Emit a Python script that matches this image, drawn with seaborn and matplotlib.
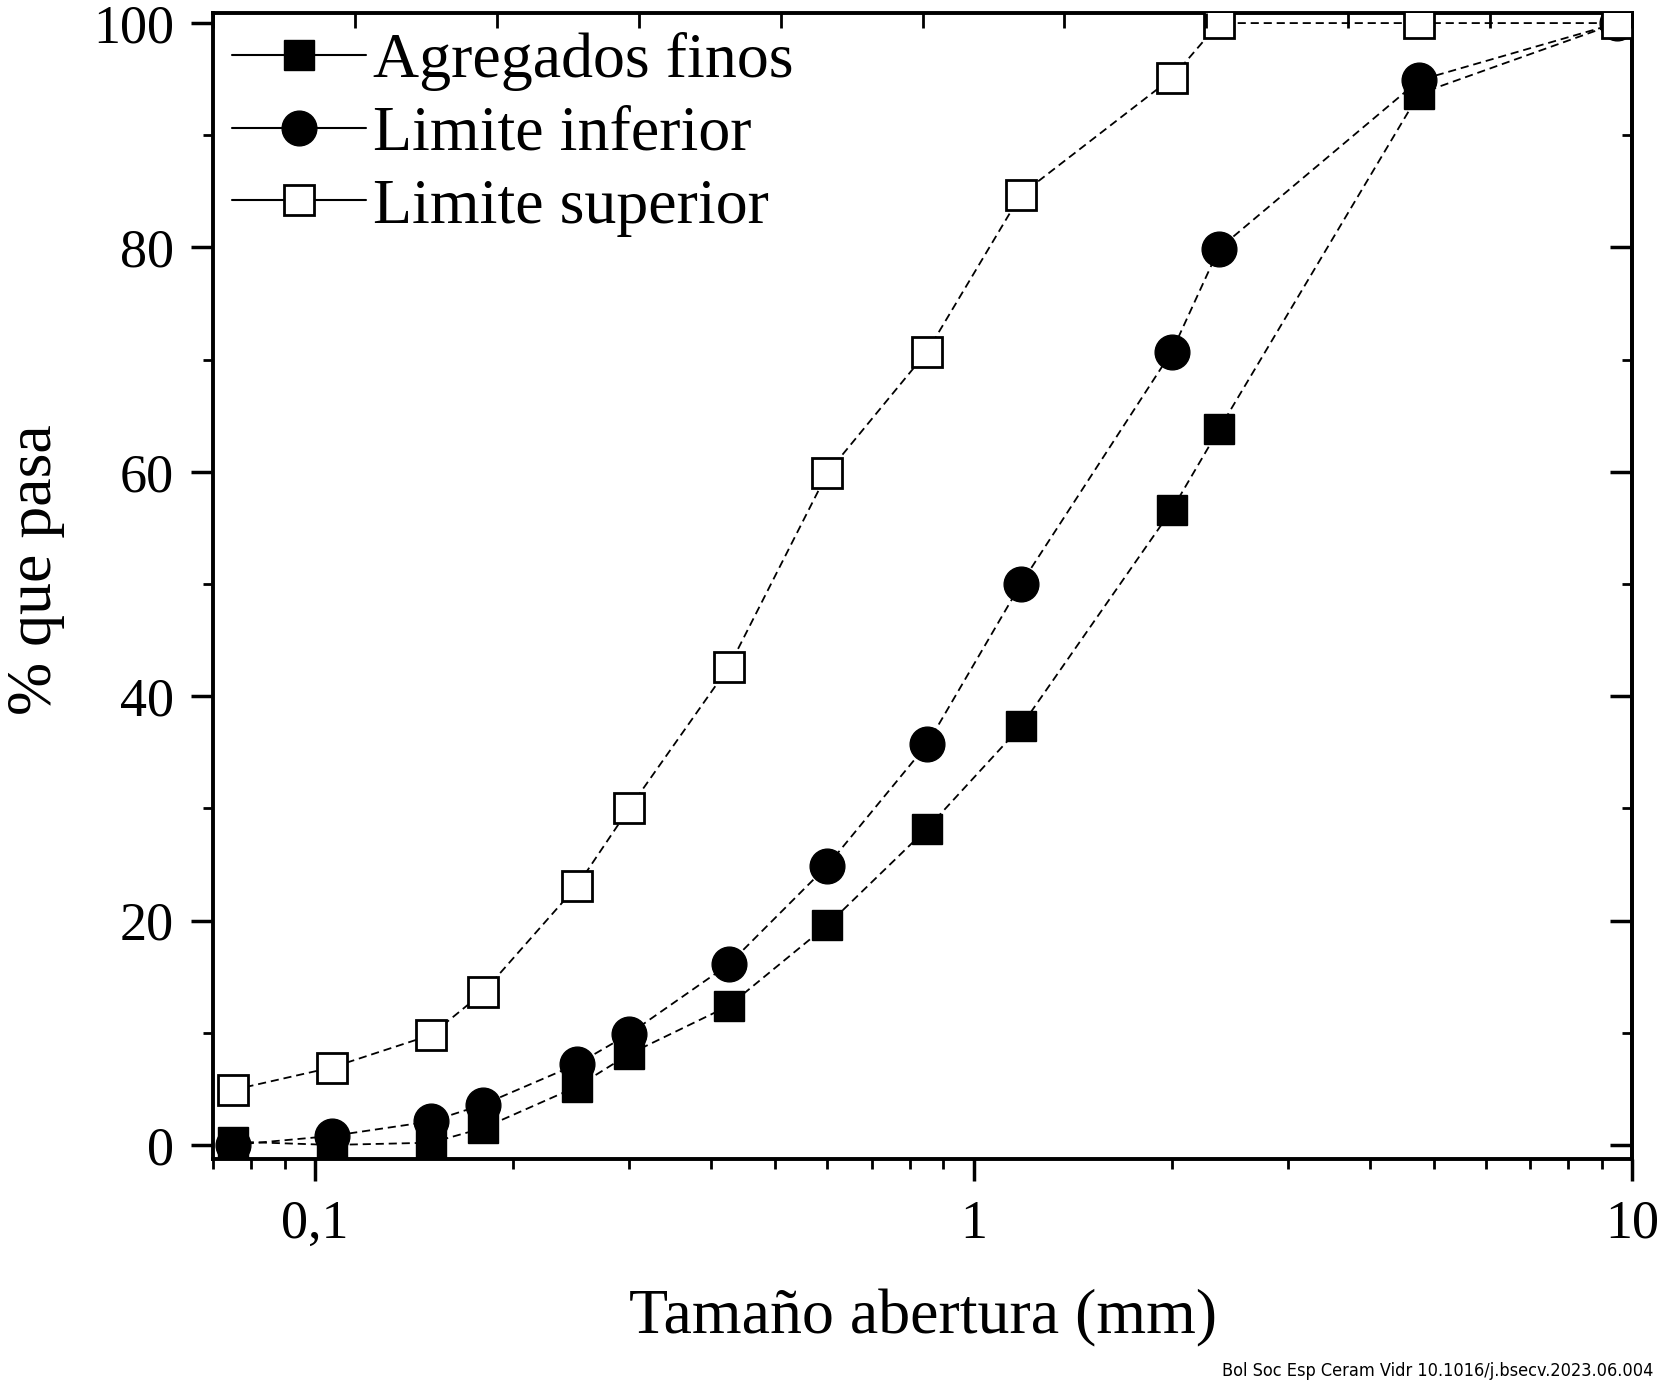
import numpy as np
import matplotlib
matplotlib.use("Agg")
import matplotlib.pyplot as plt
from matplotlib.lines import Line2D
from matplotlib.ticker import FixedLocator, NullFormatter, LogLocator
import seaborn as sns

# sieve openings (mm) and % passing
abertura = [0.075, 0.106, 0.15, 0.18, 0.25, 0.3, 0.425, 0.6, 0.85, 1.18, 2.0, 2.36, 4.75, 9.5]
agregados_finos = [0.3, 0.0, 0.2, 1.5, 5.2, 8.1, 12.4, 19.6, 28.2, 37.3, 56.6, 63.8, 93.7, 100]
limite_inferior = [0.0, 0.8, 2.1, 3.6, 7.2, 9.9, 16.1, 24.9, 35.7, 50.0, 70.7, 79.9, 94.9, 100]
limite_superior = [4.9, 6.9, 9.8, 13.6, 23.1, 30.0, 42.6, 59.9, 70.7, 84.7, 95.1, 100, 100, 100]

xticks = [0.1, 1, 10]
xticklabels = ["0,1", "1", "10"]
yticks = [0, 20, 40, 60, 80, 100]

sns.set_style("ticks")
plt.rcParams["font.family"] = ["Liberation Serif", "DejaVu Serif"]
plt.rcParams["text.color"] = "black"
plt.rcParams["axes.labelcolor"] = "black"
plt.rcParams["xtick.color"] = "black"
plt.rcParams["ytick.color"] = "black"

fig = plt.figure(figsize=(16.67, 13.95), dpi=100)
ax = fig.add_axes([0.1278, 0.1692, 0.8512, 0.8215])

dash = (0, (4.5, 2.7))
sns.lineplot(x=abertura, y=limite_inferior, ax=ax, color="black", lw=1.3, linestyle=dash,
             marker="o", markersize=25, markerfacecolor="black", markeredgecolor="black",
             markeredgewidth=1.0, legend=False, zorder=3)
sns.lineplot(x=abertura, y=agregados_finos, ax=ax, color="black", lw=1.3, linestyle=dash,
             marker="s", markersize=22, markerfacecolor="black", markeredgecolor="black",
             markeredgewidth=1.0, legend=False, zorder=4)
sns.lineplot(x=abertura, y=limite_superior, ax=ax, color="black", lw=1.3, linestyle=dash,
             marker="s", markersize=22, markerfacecolor="white", markeredgecolor="black",
             markeredgewidth=2.0, legend=False, zorder=5)

ax.set_xscale("log")
ax.set_xlim(0.07, 10)
ax.set_ylim(-1.25, 100.9)
ax.set_xticks(xticks)
ax.set_xticklabels(xticklabels)
ax.xaxis.set_minor_locator(LogLocator(base=10, subs=np.arange(2, 10)))
ax.xaxis.set_minor_formatter(NullFormatter())
ax.set_yticks(yticks)
ax.yaxis.set_minor_locator(FixedLocator([10, 30, 50, 70, 90]))

for s in ax.spines.values():
    s.set_linewidth(2.8)
    s.set_color("black")

ax.tick_params(axis="both", which="major", direction="out", length=16, width=2.5,
               labelsize=39, colors="black")
ax.tick_params(axis="both", which="minor", direction="out", length=7, width=2.0)
ax.tick_params(axis="x", which="major", pad=13)
ax.tick_params(axis="y", which="major", pad=12)

# top axis: evenly spaced inward ticks
top = ax.twiny()
top.set_xlim(0, 10)
top.set_xticks(range(11))
top.tick_params(axis="x", direction="in", length=11, width=2.0, labeltop=False, top=True)
for s in top.spines.values():
    s.set_visible(False)

# right axis: inward ticks
right = ax.secondary_yaxis("right")
right.set_yticks(yticks)
right.yaxis.set_minor_locator(FixedLocator([10, 30, 50, 70, 90]))
right.tick_params(axis="y", which="major", direction="in", length=16, width=2.5, labelright=False)
right.tick_params(axis="y", which="minor", direction="in", length=7, width=2.0)
right.spines["right"].set_linewidth(2.8)

ax.set_xlabel("Tamaño abertura (mm)", fontsize=46, color="black")
ax.set_ylabel("% que pasa", fontsize=46, color="black")
ax.xaxis.set_label_coords(0.5, -0.114)
ax.yaxis.set_label_coords(-0.104, 0.514)

handles = [
    Line2D([], [], color="black", lw=1.5, marker="s", markersize=22,
           markerfacecolor="black", markeredgecolor="black"),
    Line2D([], [], color="black", lw=1.5, marker="o", markersize=25,
           markerfacecolor="black", markeredgecolor="black"),
    Line2D([], [], color="black", lw=1.5, marker="s", markersize=22,
           markerfacecolor="white", markeredgecolor="black", markeredgewidth=2.0),
]
labels = ["Agregados finos", "Limite inferior", "Limite superior"]
ax.legend(handles, labels, loc="upper left", frameon=False, fontsize=46,
          handlelength=2.1, handletextpad=0.1, labelspacing=0.22,
          borderpad=0.0, borderaxespad=0.3, labelcolor="black")

fig.text(0.9916, 0.017, "Bol Soc Esp Ceram Vidr 10.1016/j.bsecv.2023.06.004",
         ha="right", va="center", fontsize=13, family="DejaVu Sans",
         fontstretch="condensed", color="black")

fig.savefig("out.png", dpi=100)
